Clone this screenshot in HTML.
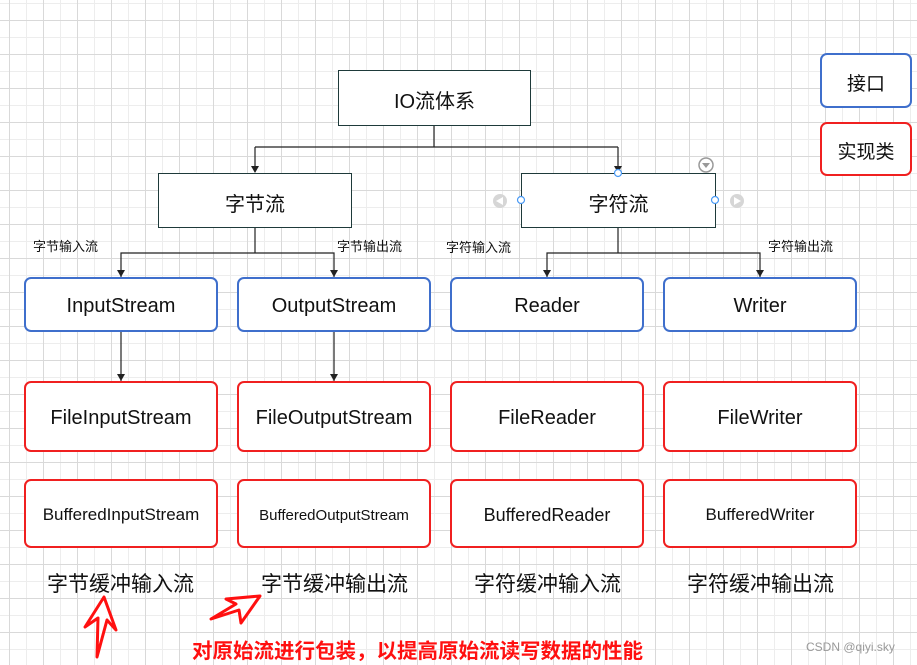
<!DOCTYPE html>
<html><head><meta charset="utf-8"><style>
body{margin:0;width:917px;height:665px;overflow:hidden;font-family:"Liberation Sans","Noto Sans CJK SC",sans-serif;
background-color:#fff;
background-image:
linear-gradient(to right,#d9d9d9 1px,transparent 1px),
linear-gradient(to bottom,#d9d9d9 1px,transparent 1px),
linear-gradient(to right,#ededed 1px,transparent 1px),
linear-gradient(to bottom,#ededed 1px,transparent 1px);
background-size:34px 34px,34px 34px,17px 17px,17px 17px;
background-position:9px 0,0 20px,9px 0,0 3px;}
.b{position:absolute;box-sizing:border-box;display:flex;align-items:center;justify-content:center;color:#111;background:#fff;padding-top:3px}
.k{border:1px solid #1e3a3a;font-size:20px}
.i{border:2px solid #3f6fcc;border-radius:7px;font-size:20px}
.r{border:2px solid #f02020;border-radius:7px;font-size:20px}
.t{position:absolute;color:#111;white-space:nowrap}
</style></head><body>
<svg width="917" height="665" style="position:absolute;left:0;top:0">
<g stroke="#222" stroke-width="1.2" fill="none">
<path d="M434,125 V147 M255,147 H618 M255,147 V172 M618,147 V172"/>
<path d="M255,227 V253 H121 V277 M255,253 H334 V277"/>
<path d="M618,227 V253 H547 V277 M618,253 H760 V277"/>
<path d="M121,331 V381 M334,331 V381"/>
</g>
<g fill="#222">
<path d="M251,166 L259,166 L255,173 z"/><path d="M614,166 L622,166 L618,173 z"/>
<path d="M117,270 L125,270 L121,277 z"/><path d="M330,270 L338,270 L334,277 z"/>
<path d="M543,270 L551,270 L547,277 z"/><path d="M756,270 L764,270 L760,277 z"/>
<path d="M117,374 L125,374 L121,381 z"/><path d="M330,374 L338,374 L334,381 z"/>
</g>
<g stroke="#ff1010" stroke-width="3" fill="#fff" stroke-linejoin="round">
<path d="M104,597 L116,630 L107,620 L97,657 L98,618 L85,627 Z"/>
<path d="M260,596 L241,623 L239,610 L211,619 L236,604 L226,599 Z"/>
</g>
</svg>
<div class="b k" style="left:338px;top:70px;width:193px;height:56px">IO流体系</div>
<div class="b k" style="left:158px;top:173px;width:194px;height:55px">字节流</div>
<div class="b k" style="left:521px;top:173px;width:195px;height:55px">字符流</div>
<svg width="917" height="665" style="position:absolute;left:0;top:0">
<g fill="#fff" stroke="#4a9af5" stroke-width="1.2">
<circle cx="618" cy="173" r="3.5"/><circle cx="521" cy="200" r="3.5"/><circle cx="715" cy="200" r="3.5"/>
</g>
<circle cx="500" cy="201" r="7" fill="#d6d6d6"/><path d="M503,197 L496,201 L503,205 z" fill="#fff"/>
<circle cx="737" cy="201" r="7" fill="#d6d6d6"/><path d="M734,197 L741,201 L734,205 z" fill="#fff"/>
<circle cx="706" cy="165" r="7" fill="#fff" stroke="#999" stroke-width="1.5"/><path d="M702,163 L710,163 L706,168 z" fill="#999"/>
</svg>
<div class="b i" style="left:820px;top:53px;width:92px;height:55px;font-size:19px">接口</div>
<div class="b r" style="left:820px;top:122px;width:92px;height:54px;font-size:19px">实现类</div>
<div class="b i" style="left:24px;top:277px;width:194px;height:55px">InputStream</div>
<div class="b i" style="left:237px;top:277px;width:194px;height:55px">OutputStream</div>
<div class="b i" style="left:450px;top:277px;width:194px;height:55px">Reader</div>
<div class="b i" style="left:663px;top:277px;width:194px;height:55px">Writer</div>
<div class="b r" style="left:24px;top:381px;width:194px;height:71px">FileInputStream</div>
<div class="b r" style="left:237px;top:381px;width:194px;height:71px">FileOutputStream</div>
<div class="b r" style="left:450px;top:381px;width:194px;height:71px">FileReader</div>
<div class="b r" style="left:663px;top:381px;width:194px;height:71px">FileWriter</div>
<div class="b r" style="left:24px;top:479px;width:194px;height:69px;font-size:17px">BufferedInputStream</div>
<div class="b r" style="left:237px;top:479px;width:194px;height:69px;font-size:15px">BufferedOutputStream</div>
<div class="b r" style="left:450px;top:479px;width:194px;height:69px;font-size:18px">BufferedReader</div>
<div class="b r" style="left:663px;top:479px;width:194px;height:69px;font-size:17px">BufferedWriter</div>
<div class="t" style="left:33px;top:236px;font-size:13px">字节输入流</div>
<div class="t" style="left:337px;top:236px;font-size:13px">字节输出流</div>
<div class="t" style="left:446px;top:237px;font-size:13px">字符输入流</div>
<div class="t" style="left:768px;top:236px;font-size:13px">字符输出流</div>
<div class="t" style="left:47px;top:568px;font-size:21px">字节缓冲输入流</div>
<div class="t" style="left:261px;top:568px;font-size:21px">字节缓冲输出流</div>
<div class="t" style="left:474px;top:568px;font-size:21px">字符缓冲输入流</div>
<div class="t" style="left:687px;top:568px;font-size:21px">字符缓冲输出流</div>
<div class="t" style="left:192px;top:634px;font-size:20.5px;font-weight:bold;color:#ff1010">对原始流进行包装，以提高原始流读写数据的性能</div>
<div class="t" style="left:806px;top:640px;font-size:12px;color:#999">CSDN @qiyi.sky</div>
</body></html>
